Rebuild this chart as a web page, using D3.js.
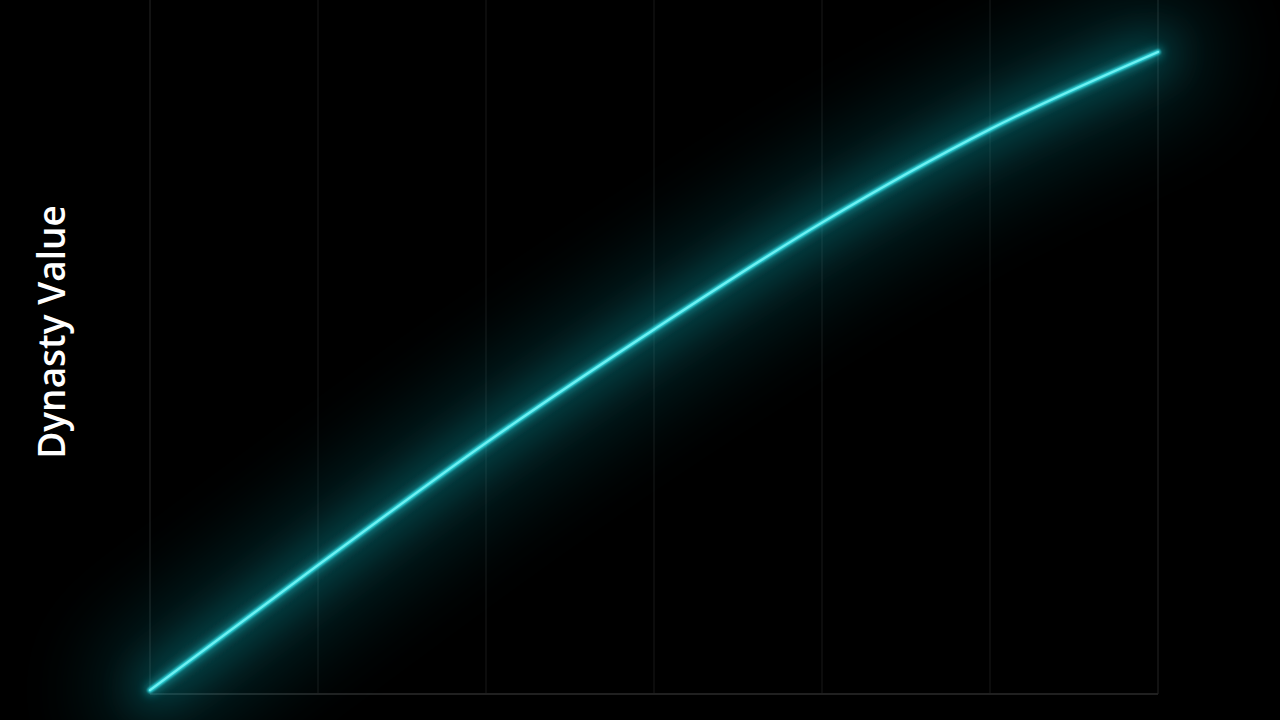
<!DOCTYPE html>
<html>
<head>
<meta charset="utf-8">
<script src="https://cdn.jsdelivr.net/npm/d3@7"></script>
<style>
  html, body { margin: 0; padding: 0; background: #000; }
  svg { display: block; }
</style>
</head>
<body>
<script>
// Data
const periods = [0, 1, 2, 3, 4, 5, 6];
const dynastyValues = [0.6, 20.0, 39.0, 56.6, 73.2, 87.7, 99.7];
const yAxisTitle = "Dynasty Value";

const W = 1280, H = 720;
const margin = { left: 150, right: 122, top: 0, bottom: 26 };

const svg = d3.select("body").append("svg")
  .attr("width", W).attr("height", H)
  .style("background", "#000");

const defs = svg.append("defs");
function blur(id, sd) {
  defs.append("filter").attr("id", id)
    .attr("x", "-30%").attr("y", "-30%").attr("width", "160%").attr("height", "160%")
    .append("feGaussianBlur").attr("stdDeviation", sd);
}
blur("glowHuge", 45);
blur("glowWide", 20);
blur("glowMid", 5);
blur("glowSoft", 1.3);

const x = d3.scaleLinear().domain([0, 6]).range([margin.left, W - margin.right]);
const y = d3.scaleLinear().domain([0, 100]).range([H - margin.bottom, 50]);

// Grid lines
svg.append("g")
  .selectAll("line")
  .data(periods)
  .join("line")
  .attr("x1", d => x(d)).attr("x2", d => x(d))
  .attr("y1", 0).attr("y2", y(0))
  .attr("stroke", d => (d === 0 || d === 6) ? "#181818" : "#101010")
  .attr("stroke-width", 1.5);

// x axis baseline
svg.append("line")
  .attr("x1", x(0)).attr("x2", x(6))
  .attr("y1", y(0)).attr("y2", y(0))
  .attr("stroke", "#202020").attr("stroke-width", 2);

const line = d3.line()
  .x((d, i) => x(periods[i]))
  .y(d => y(d))
  .curve(d3.curveMonotoneX);

const pathD = line(dynastyValues);

svg.append("path").attr("d", pathD)
  .attr("fill", "none").attr("stroke", "#0a8f99")
  .attr("stroke-width", 100).attr("stroke-linecap", "round")
  .attr("opacity", 0.3).attr("filter", "url(#glowHuge)");

svg.append("path").attr("d", pathD)
  .attr("fill", "none").attr("stroke", "#0fb3bd")
  .attr("stroke-width", 30).attr("stroke-linecap", "round")
  .attr("opacity", 0.32).attr("filter", "url(#glowWide)");

svg.append("path").attr("d", pathD)
  .attr("fill", "none").attr("stroke", "#18c6cf")
  .attr("stroke-width", 10).attr("stroke-linecap", "round")
  .attr("opacity", 0.5).attr("filter", "url(#glowMid)");

svg.append("path").attr("d", pathD)
  .attr("fill", "none").attr("stroke", "#2fd8df")
  .attr("stroke-width", 5).attr("stroke-linecap", "round")
  .attr("filter", "url(#glowSoft)");

svg.append("path").attr("d", pathD)
  .attr("fill", "none").attr("stroke", "#6ff0f2")
  .attr("stroke-width", 2.2).attr("stroke-linecap", "round");

// Y axis title
svg.append("text")
  .attr("transform", `translate(${65},${332}) rotate(-90)`)
  .attr("text-anchor", "middle")
  .attr("fill", "#ffffff")
  .style("font-family", "'Open Sans', 'Noto Sans', sans-serif")
  .style("font-size", "37px")
  .style("font-weight", 600)
  .text(yAxisTitle);
</script>
</body>
</html>
